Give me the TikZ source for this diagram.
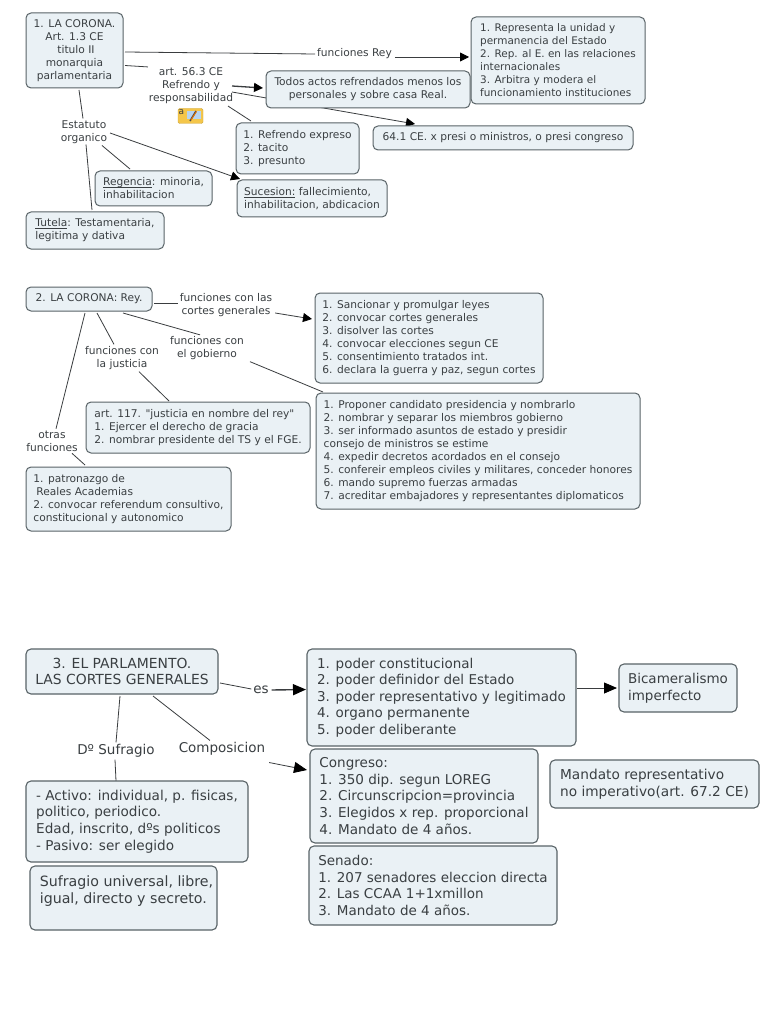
\documentclass[tikz,border=0pt]{standalone}
\usepackage{fontspec}
\setmainfont{DejaVu Sans}
\newfontfamily\plainf{DejaVu Sans}
\usetikzlibrary{arrows.meta,backgrounds}
\definecolor{boxfill}{HTML}{EAF1F5}
\definecolor{boxline}{HTML}{596367}
\definecolor{ink}{HTML}{3A3F42}
\definecolor{linkc}{HTML}{3A3D3F}
\newcommand{\fsA}{\fontsize{10.65}{13}\selectfont}
\newcommand{\fsB}{\fontsize{13.5}{16.6}\selectfont}
\newcommand{\fsz}[1]{\fontsize{#1}{16.6}\selectfont}
\newcommand{\ul}[1]{\underline{\smash{#1}}}
\newcommand{\bx}[7][]{%
  \pgfmathsetmacro{\cxx}{(#3+#5)/2}\pgfmathsetmacro{\cyy}{(#4+#6)/2}%
  \pgfmathsetmacro{\ww}{#5-#3}\pgfmathsetmacro{\hh}{#6-#4}%
  \node[cbox,minimum width=\ww pt,minimum height=\hh pt,#1] (#2) at (\cxx,\cyy) {#7};}
\tikzset{
  cbox/.style={draw=boxline,line width=1pt,fill=boxfill,rounded corners=5pt,inner sep=0pt,outer sep=0pt,
    align=left,text=ink,font=\fsA},
  bigbox/.style={font=\fsB,line width=1.1pt},
  lab/.style={align=center,text=ink,font=\fsA,inner sep=0pt,outer sep=0pt},
  biglab/.style={lab,font=\fsB},
  lnk/.style={draw=linkc,line width=0.8pt},
  arr/.style={lnk,-{Triangle[length=9pt,width=9pt,color=black]}},
  thickarr/.style={draw=linkc,line width=1.3pt,-{Triangle[length=9pt,width=9pt,color=black]}},
  bigarr/.style={lnk,-{Triangle[length=13pt,width=11pt,color=black]}},
  bigthickarr/.style={draw=linkc,line width=1.4pt,-{Triangle[length=13pt,width=11pt,color=black]}},
}
\begin{document}
\begin{tikzpicture}[x=1pt,y=-1pt]
\useasboundingbox (0,0) rectangle (768,1024);
\begin{scope}[on background layer]
\fill[white] (0,0) rectangle (768,1024);
\end{scope}
% ---------- section 1
\bx[align=center]{corona}{26}{13}{123}{88}{1. LA CORONA.\\Art. 1.3 CE\\\hspace{3pt}titulo II\\monarquia\\parlamentaria}
\bx[font=\fontsize{10.45}{13}\selectfont]{rep}{471}{17}{645}{104}{1. Representa la unidad y\\permanencia del Estado\\2. Rep. al E. en las relaciones\\internacionales\\3. Arbitra y modera el\\funcionamiento instituciones}
\bx[align=center]{todos}{266}{71}{470}{108}{Todos actos refrendados menos los\\personales y sobre casa Real.}
\bx{ley}{373}{126}{633}{150}{64.1 CE. x presi o ministros, o presi congreso}
\bx{refr}{236}{123}{359}{174}{1. Refrendo expreso\\2. tacito\\3. presunto}
\bx{suc}{237}{180}{387}{217}{\ul{Sucesion:} fallecimiento,\\inhabilitacion, abdicacion}
\bx{reg}{95}{171}{212}{206}{\ul{Regencia}: minoria,\\inhabilitacion}
\bx{tut}{26}{212}{164}{249}{\ul{Tutela}: Testamentaria,\\legitima y dativa}
\node[lab] (frey) at (354.5,54) {funciones Rey};
\node[lab] (art) at (191,86) {art. 56.3 CE\\Refrendo y\\responsabilidad};
\node[lab] (est) at (84,132) {Estatuto\\organico};
% note icon
\definecolor{noteY}{HTML}{F4C64A}
\definecolor{noteB}{HTML}{B7D4F0}
\node[draw=noteY!85!black,fill=noteY,rounded corners=1.5pt,minimum width=25pt,minimum height=15pt,inner sep=0pt] (icon) at (190.5,116) {};
\fill[noteB] (186.5,111) rectangle (201,119.5);
\draw[black!70,line width=1.5pt] (190,121) -- (196,111);
\draw[orange!90!black,line width=1pt] (191,120) -- (196.5,111.5);
\node[font=\fontsize{9}{9}\selectfont,text=ink,inner sep=0pt] (icona) at (181.5,112) {a};
\begin{scope}[on background layer]
\draw[lnk] ([shift={(2,1.5)}]corona.east) -- ([shift={(-2,0)}]frey.west);
\draw[arr] ([shift={(3,3)}]frey.east) -- ([shift={(-2,-3.5)}]rep.west);
\draw[lnk] ([shift={(2,15.5)}]corona.north east) ++(0,37) -- ([shift={(-1,-1)}]art.north west);
\draw[thickarr] ([shift={(-1,0)}]art.east) -- ([shift={(-3,-1.5)}]todos.west);
\draw[arr] ([shift={(-1,6)}]art.east) -- ([shift={(42,-2)}]ley.north west);
\draw[lnk] ([shift={(37,2)}]art.south) -- ([shift={(15,-2)}]refr.north west);
\draw[lnk] ([shift={(53,2)}]corona.south west) -- ([shift={(-1,-2)}]est.north);
\draw[arr] ([shift={(3,1)}]est.east) -- ([shift={(3,-1)}]suc.north west);
\draw[lnk] ([shift={(18,2)}]est.south) -- ([shift={(35,-2)}]reg.north west);
\draw[lnk] ([shift={(2,1)}]est.south) -- ([shift={(66,-2)}]tut.north west);
\end{scope}
% ---------- section 2
\bx{rey}{26}{287}{152}{311}{2. LA CORONA: Rey.}
\bx{sanc}{315}{293}{543}{383}{1. Sancionar y promulgar leyes\\2. convocar cortes generales\\3. disolver las cortes\\4. convocar elecciones segun CE\\5. consentimiento tratados int.\\6. declara la guerra y paz, segun cortes}
\bx{prop}{316}{393}{640}{509}{1. Proponer candidato presidencia y nombrarlo\\2. nombrar y separar los miembros gobierno\\3. ser informado asuntos de estado y presidir\\consejo de ministros se estime\\4. expedir decretos acordados en el consejo\\5. confereir empleos civiles y militares, conceder honores\\6. mando supremo fuerzas armadas\\7. acreditar embajadores y representantes diplomaticos}
\bx{just}{86}{402}{310}{453}{art. 117. {\plainf "}justicia en nombre del rey{\plainf "}\\1. Ejercer el derecho de gracia\\2. nombrar presidente del TS y el FGE.}
\bx{patr}{26}{467}{231}{531}{1. patronazgo de\\\hspace{3pt}Reales Academias\\2. convocar referendum consultivo,\\constitucional y autonomico}
\node[lab] (fcg) at (226,305) {funciones con las\\cortes generales};
\node[lab] (fgo) at (207,348) {funciones con\\el gobierno};
\node[lab] (fju) at (122,358) {funciones con\\la justicia};
\node[lab] (fot) at (52,441) {otras\\funciones};
\begin{scope}[on background layer]
\draw[lnk] ([shift={(2,-7)}]rey.south east) ++(0,-1) -- ([shift={(-2,-2)}]fcg.west);
\draw[arr] ([shift={(3,8)}]fcg.east) -- ([shift={(-3,-19)}]sanc.west);
\draw[lnk] ([shift={(97,2)}]rey.south west) -- ([shift={(-7,-1.5)}]fgo.north);
\draw[lnk] ([shift={(6,0)}]fgo.south east) ++(0,2) -- ([shift={(7,-1)}]prop.north west);
\draw[lnk] ([shift={(71,2)}]rey.south west) -- ([shift={(-8,-2)}]fju.north);
\draw[lnk] ([shift={(17,2)}]fju.south) -- ([shift={(83,-1)}]just.north west);
\draw[lnk] ([shift={(59,2)}]rey.south west) -- ([shift={(4,-2)}]fot.north);
\draw[lnk] ([shift={(20,2)}]fot.south) -- ([shift={(59,-2)}]patr.north west);
\end{scope}
% ---------- section 3
\bx[bigbox,font=\fsz{13.9},align=center]{parl}{26}{649}{218}{694}{3. EL PARLAMENTO.\\LAS CORTES GENERALES}
\bx[bigbox]{poder}{307}{649}{576}{746}{1. poder constitucional\\2. poder definidor del Estado\\3. poder representativo y legitimado\\4. organo permanente\\5. poder deliberante}
\bx[bigbox]{bica}{619}{664}{737}{712}{Bicameralismo\\imperfecto}
\bx[bigbox,font=\fsz{13.55}]{cong}{310}{749}{538}{843}{Congreso:\\1. 350 dip. segun LOREG\\2. Circunscripcion=provincia\\3. Elegidos x rep. proporcional\\4. Mandato de 4 años.}
\bx[bigbox,font=\fsz{13.7}]{mand}{550}{760}{759}{808}{Mandato representativo\\no imperativo(art. 67.2 CE)}
\bx[bigbox]{sena}{309}{846}{557}{925}{Senado:\\1. 207 senadores eleccion directa\\2. Las CCAA 1+1xmillon\\3. Mandato de 4 años.}
\bx[bigbox,font=\fsz{13.6}]{acti}{26}{781}{248}{862}{- Activo: individual, p. fisicas,\\politico, periodico.\\Edad, inscrito, dºs politicos\\- Pasivo: ser elegido}
\bx[bigbox,font=\fsz{14.2}]{sufr}{30}{866}{217}{930}{\hspace{6pt}Sufragio universal, libre,\\\hspace{6pt}igual, directo y secreto.\\\mbox{}}
\node[biglab] (es) at (261,690) {es};
\node[biglab] (dsu) at (116,751) {Dº Sufragio};
\node[biglab] (comp) at (222,749) {Composicion};
\begin{scope}[on background layer]
\draw[lnk] ([shift={(2,-11)}]parl.south east) -- ([shift={(-2,-1)}]es.west);
\draw[bigthickarr] ([shift={(3,0)}]es.east) -- ([shift={(-1,-8)}]poder.west);
\draw[bigarr] ([shift={(1,-9.5)}]poder.east) -- ([shift={(-2,0)}]bica.west);
\draw[lnk] ([shift={(94,2)}]parl.south west) -- ([shift={(0,-2)}]dsu.north);
\draw[lnk] ([shift={(-1,2)}]dsu.south) -- ([shift={(90,0)}]acti.north west);
\draw[lnk] ([shift={(127,2)}]parl.south west) -- ([shift={(-12,-2)}]comp.north);
\draw[bigarr] ([shift={(4,7)}]comp.south east) -- ([shift={(-3,-26)}]cong.west);
\end{scope}
\end{tikzpicture}
\end{document}
